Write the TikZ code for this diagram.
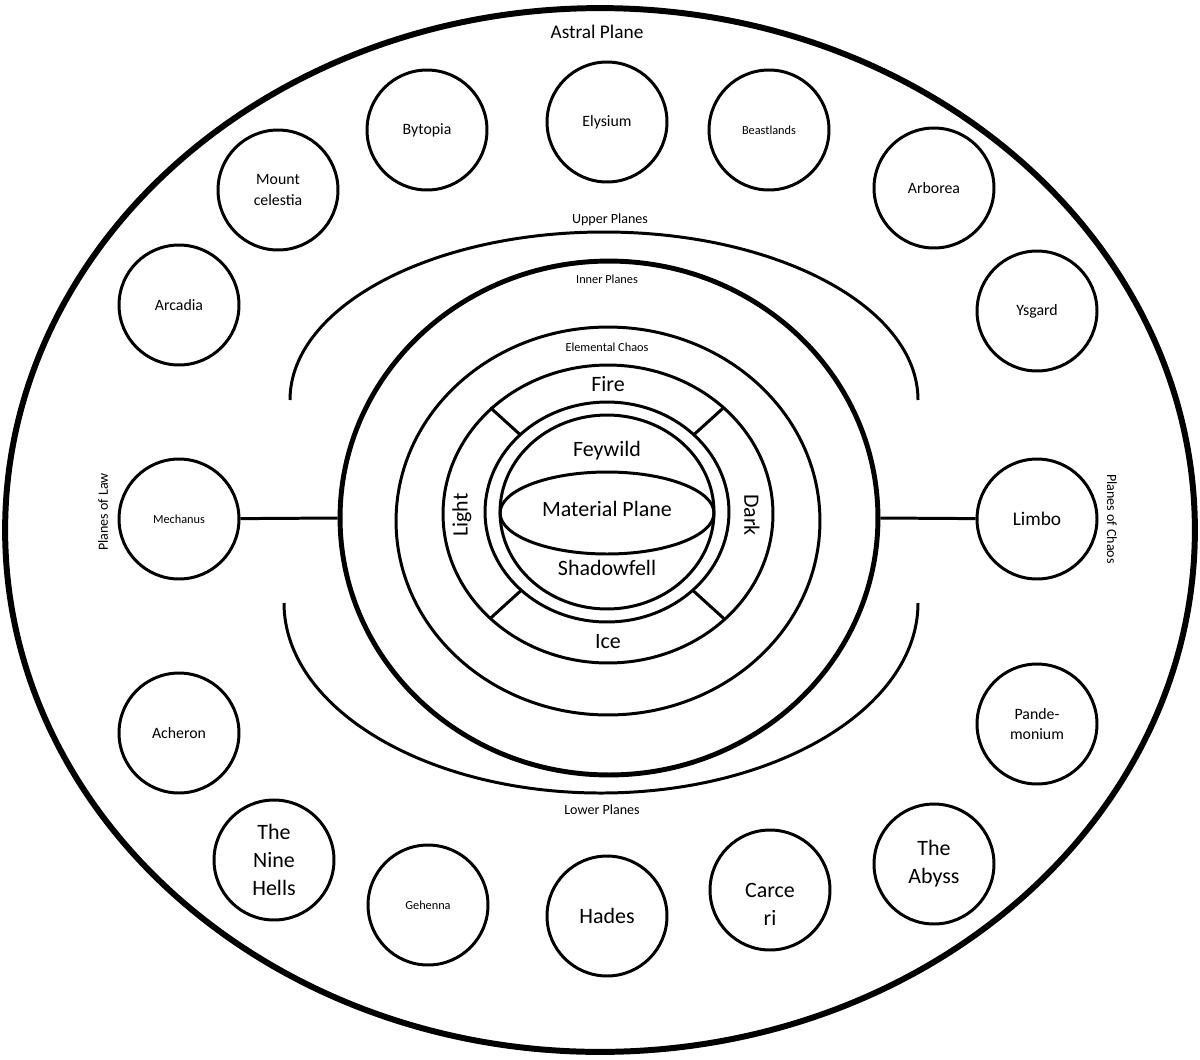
\documentclass[tikz,border=0pt]{standalone}
\usepackage{fontspec}
\setmainfont{Carlito}
\usetikzlibrary{positioning, shapes.geometric}

\tikzset{
  plane/.style={circle, draw, line width=1.7pt, minimum size=2.4cm, inner sep=1pt, align=center, font=\fontsize{9}{11.5}\selectfont},
  ring/.style={ellipse, draw, line width=1.7pt, inner sep=0pt},
  small/.style={font=\fontsize{7}{8}\selectfont},
  big/.style={font=\fontsize{12.5}{16}\selectfont}
}

\begin{document}
\begin{tikzpicture}[x=0.02cm, y=-0.02cm]
  \useasboundingbox (0,0) rectangle (1200,1059);

  % Astral Plane
  \node[ellipse, draw, line width=3.4pt, minimum width=23.8cm, minimum height=20.88cm] (astral) at (600,530) {};
  \node[font=\fontsize{11}{12}\selectfont] (astrallbl) at (597,32) {Astral Plane};

  % Outer planes, upper half
  \node[plane] (bytopia) at (427,130) {Bytopia};
  \node[plane] (elysium) at (607,122) {Elysium};
  \node[plane, small] (beast) at (769,130) {Beastlands};
  \node[plane] (mount) at (278,190) {Mount\\celestia};
  \node[plane] (arborea) at (934,188) {Arborea};
  \node[plane] (arcadia) at (179,305) {Arcadia};
  \node[plane] (ysgard) at (1037,311) {Ysgard};
  \node[plane, small] (mech) at (179,519) {Mechanus};
  \node[plane, font=\fontsize{11}{12}\selectfont] (limbo) at (1037,519) {Limbo};

  % Outer planes, lower half
  \node[plane] (acheron) at (179,733) {Acheron};
  \node[plane] (pande) at (1037,724) {Pande-\\monium};
  \node[plane, big] (hells) at (274,860) {The\\Nine\\Hells};
  \node[plane, small] (gehenna) at (428,905) {Gehenna};
  \node[plane, big] (hades) at (607,916) {Hades};
  \node[plane] (carceri) at (770,890) {};
  \node[big, align=center] (carcerilbl) at (770,904) {Carce\\ri};
  \node[plane, big] (abyss) at (934,864) {The\\Abyss};

  % Side labels
  \node[rotate=90, font=\fontsize{8}{9}\selectfont] (law) at (103,512) {Planes of Law};
  \node[rotate=-90, font=\fontsize{8}{9}\selectfont] (chaos) at (1112,519) {Planes of Chaos};

  % Upper and lower planes arcs
  \draw[line width=1.7pt] (290,400) arc[start angle=180, end angle=360, x radius=314, y radius=168];
  \node[font=\fontsize{8}{9}\selectfont] (upper) at (610,220) {Upper Planes};
  \draw[line width=1.7pt] (284,603) arc[start angle=180, end angle=0, x radius=317, y radius=190];
  \node[font=\fontsize{8}{9}\selectfont] (lower) at (602,810) {Lower Planes};

  % Inner planes
  \node[ring, line width=2.8pt, minimum width=10.76cm, minimum height=10.28cm] (inner) at (609,518) {};
  \node[small] (innerlbl) at (607,279) {Inner Planes};
  \node[ring, minimum width=8.48cm, minimum height=7.76cm] (elem) at (608,521) {};
  \node[small] (elemlbl) at (607,347) {Elemental Chaos};
  \node[ring, minimum width=6.6cm, minimum height=5.96cm] (fire) at (608,514) {};
  \node[ring, minimum width=4.88cm, minimum height=4.4cm] (feyout) at (607,512) {};
  \node[ring, minimum width=4.28cm, minimum height=3.88cm] (feyin) at (607,512) {};
  \node[ring, minimum width=4.28cm, minimum height=1.64cm] (material) at (607,513) {};

  % Dividers between elements
  \foreach \a in {45,135,225,315}
    \draw[line width=1.7pt] ([shift={(607,513)}]\a:122 and 110) -- ([shift={(607,513)}]\a:165 and 149);

  \node[big] (firelbl) at (608,384) {Fire};
  \node[big] (icelbl) at (608,642) {Ice};
  \node[big, rotate=90] (lightlbl) at (462,515) {Light};
  \node[big, rotate=-90] (darklbl) at (752,515) {Dark};
  \node[big] (feylbl) at (607,451) {Feywild};
  \node[big] (matlbl) at (607,509) {Material Plane};
  \node[big] (shadowlbl) at (607,568) {Shadowfell};

  % Links
  \draw[line width=1.7pt] (mech) -- (inner.west);
  \draw[line width=1.7pt] (limbo) -- (inner.east);
\end{tikzpicture}
\end{document}
